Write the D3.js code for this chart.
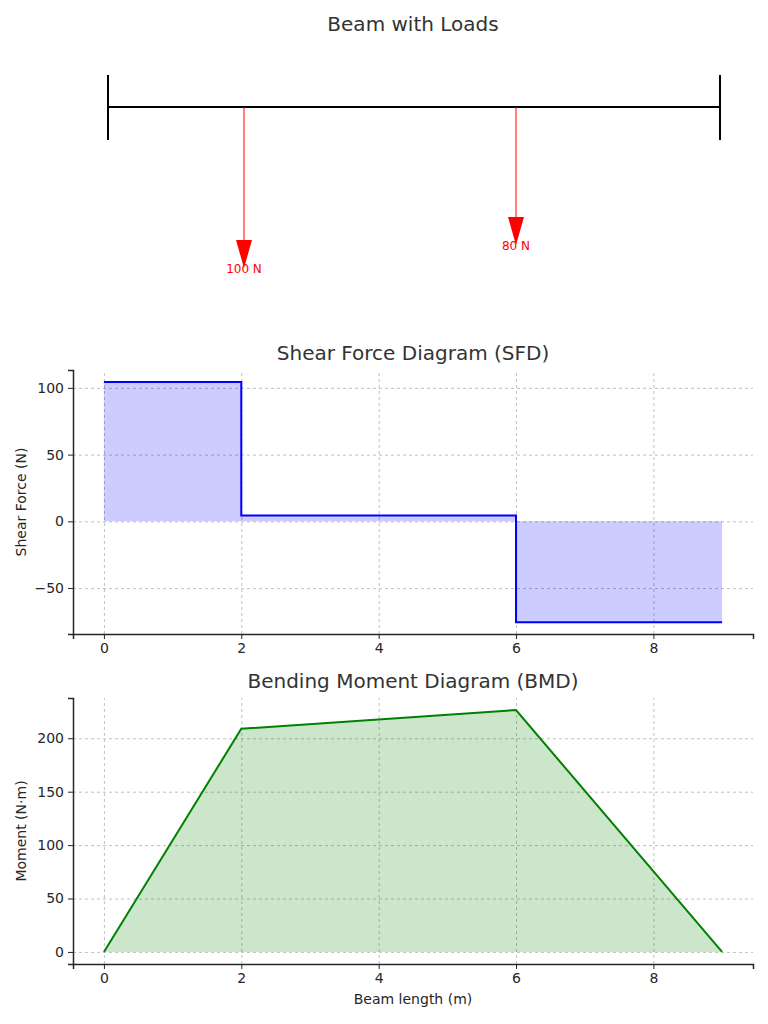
<!DOCTYPE html>
<html><head><meta charset="utf-8">
<script src="https://cdn.jsdelivr.net/npm/d3@7"></script>
<style>body{margin:0;background:#fff}text{font-family:"DejaVu Sans",sans-serif}</style>
</head><body>
<svg width="768" height="1024"></svg>
<script>
// data
const beamLength = 9
const loadPos = [2, 6]
const loadVal = [100, 80]
const sfdX = [0, 2, 2, 6, 6, 9]
const sfdV = [104.4, 104.4, 4.4, 4.4, -75.6, -75.6]
const bmdX = [0, 2, 6, 9]
const bmdM = [0, 208.9, 226.4, 0]
const sfdTicks = [-50, 0, 50, 100]
const bmdTicks = [0, 50, 100, 150, 200]
const xTicks = [0, 2, 4, 6, 8]

const svg = d3.select('svg')
const ink = '#262626'

//beam panel
const bx = d3.scaleLinear().domain([0, beamLength]).range([108, 720])
const arrowLen = d3.scaleLinear().domain([0, 100]).range([46, 161])
svg.append('text').attr('x', 413).attr('y', 31).attr('text-anchor', 'middle')
    .attr('font-size', 20).attr('fill', '#333').text('Beam with Loads')
svg.append('line').attr('x1', bx(0)).attr('x2', bx(beamLength)).attr('y1', 107).attr('y2', 107)
    .attr('stroke', 'black').attr('stroke-width', 2)
;[0, beamLength].forEach(p => svg.append('line').attr('x1', bx(p)).attr('x2', bx(p))
    .attr('y1', 75).attr('y2', 140).attr('stroke', 'black').attr('stroke-width', 2))
loadPos.forEach((p, i) => {
    const x = bx(p), tip = 107 + arrowLen(loadVal[i])
    svg.append('line').attr('x1', x).attr('x2', x).attr('y1', 107).attr('y2', tip - 26)
        .attr('stroke', 'red').attr('stroke-width', 1)
    svg.append('path').attr('d', `M${x - 8},${tip - 28}L${x + 8},${tip - 28}L${x},${tip}Z`).attr('fill', 'red')
    svg.append('text').attr('x', x).attr('y', tip + 5).attr('text-anchor', 'middle')
        .attr('font-size', 12).attr('fill', 'red').text(loadVal[i] + ' N')
})

function panel(top, bottom, yDomain, ticks, title, ylabel, xs, ys, stroke, fill, xlabel) {
    const x = d3.scaleLinear().domain([-0.45, 9.45]).range([73, 753])
    const y = d3.scaleLinear().domain(yDomain).range([bottom, top])
    const g = svg.append('g')
    g.append('g').attr('transform', `translate(0,${bottom})`)
        .call(d3.axisBottom(x).tickValues(xTicks).tickSize(-(bottom - top)).tickFormat(''))
        .call(a => a.selectAll('line').attr('stroke', '#b0b0b0').attr('stroke-dasharray', '3,3').attr('stroke-width', 0.8))
        .call(a => a.select('.domain').remove())
    g.append('g').attr('transform', 'translate(73,0)')
        .call(d3.axisLeft(y).tickValues(ticks).tickSize(-680).tickFormat(''))
        .call(a => a.selectAll('line').attr('stroke', '#b0b0b0').attr('stroke-dasharray', '3,3').attr('stroke-width', 0.8))
        .call(a => a.select('.domain').remove())
    const pts = xs.map((v, i) => [v, ys[i]])
    g.append('path').datum(pts).attr('fill', fill).attr('opacity', 0.2)
        .attr('d', d3.area().x(d => x(d[0])).y0(y(0)).y1(d => y(d[1])))
    g.append('path').datum(pts).attr('fill', 'none').attr('stroke', stroke).attr('stroke-width', 2)
        .attr('d', d3.line().x(d => x(d[0])).y(d => y(d[1])))
    const xa = g.append('g').attr('transform', `translate(0,${bottom})`)
        .call(d3.axisBottom(x).tickValues(xTicks).tickSizeOuter(0).tickSize(5).tickPadding(4))
    const ya = g.append('g').attr('transform', 'translate(73,0)')
        .call(d3.axisLeft(y).tickValues(ticks).tickSizeOuter(0).tickSize(5).tickPadding(4)
            .tickFormat(d => d < 0 ? '\u2212' + Math.abs(d) : d))
    ;[xa, ya].forEach(a => {
        a.select('.domain').attr('stroke', ink).attr('stroke-width', 1.5)
        a.selectAll('line').attr('stroke', ink)
        a.selectAll('text').attr('font-size', 14).attr('fill', ink).style('font-family', 'DejaVu Sans')
    })
    svg.append('text').attr('x', 413).attr('y', top - 10).attr('text-anchor', 'middle')
        .attr('font-size', 20).attr('fill', '#333').text(title)
    svg.append('text').attr('transform', `translate(26,${(top + bottom) / 2}) rotate(-90)`)
        .attr('text-anchor', 'middle').attr('font-size', 14).attr('fill', ink).text(ylabel)
    if (xlabel) svg.append('text').attr('x', 413).attr('y', bottom + 40).attr('text-anchor', 'middle')
        .attr('font-size', 14).attr('fill', ink).text(xlabel)
}

panel(370, 634, [-84.4, 113.4], sfdTicks, 'Shear Force Diagram (SFD)', 'Shear Force (N)', sfdX, sfdV, 'blue', 'blue')
panel(698, 964, [-11.3, 237.7], bmdTicks, 'Bending Moment Diagram (BMD)', 'Moment (N\u00b7m)', bmdX, bmdM, 'green', 'green', 'Beam length (m)')
</script>
</body></html>
